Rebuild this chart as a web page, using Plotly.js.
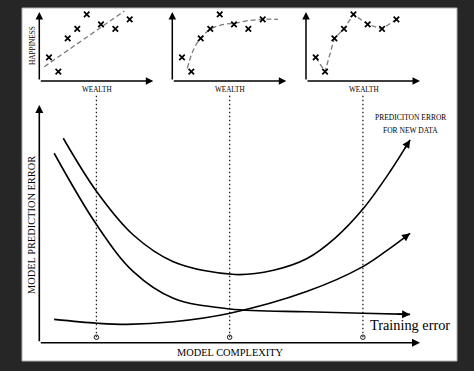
<!DOCTYPE html>
<html>
<head>
<meta charset="utf-8">
<script src="https://cdn.plot.ly/plotly-3.0.1.min.js"></script>
<style>html,body{margin:0;padding:0;background:#262626;}#chart{width:474px;height:371px;}</style>
</head>
<body>
<div id="chart"></div>
<script>
// ---- data ----
// small panels: the same sample, wealth vs happiness
const wealth    = [0.85, 1.67, 2.49, 3.33, 4.16, 5.41, 6.67, 7.93];
const happiness = [3.43, 1.35, 6.19, 7.54, 9.67, 8.22, 7.54, 8.94];
// panel 1: straight-line fit (end points)
const fitX = [0.44, 7.46];
const fitY = [2.07, 10.14];
// panel 2: smooth curve fit
const curveX = [1.32, 1.67, 2.25, 3.37, 4.60, 5.47, 6.64, 7.93, 9.27];
const curveY = [1.84, 3.77, 5.70, 7.54, 8.22, 8.36, 8.74, 8.94, 8.94];
// main chart: model complexity vs prediction error
const newDataX  = [6.3, 15.1, 24.7, 35.2, 51.4, 61.5, 70.2, 77.7, 85.0, 92.1, 97.4];
const newDataY  = [86.0, 63.5, 45.3, 34.1, 28.7, 30.5, 35.3, 44.0, 56.2, 71.9, 85.3];
const trainX    = [3.9, 15.1, 24.7, 35.2, 50.1, 70.2, 85.0, 97.4];
const trainY    = [79.7, 49.5, 29.9, 18.7, 14.2, 13.0, 12.4, 11.9];
const thirdX    = [3.9, 15.1, 23.0, 35.2, 50.1, 70.2, 85.0, 92.1, 97.4];
const thirdY    = [9.8, 8.2, 7.7, 8.8, 12.4, 21.5, 32.0, 39.7, 46.0];
const complexityLevels = [15, 50, 85];
const levelBottom = 2.3, levelTop = 104.2;

// ---- layout helpers ----
const W = 474, H = 371;
const px = (a, b) => [a / W, b / W];
const py = (bottom, top) => [1 - bottom / H, 1 - top / H];
const serif = 'Liberation Serif';
const noAx = {visible: false, fixedrange: true};

const traces = [];
const pAxes = [['x', 'y'], ['x2', 'y2'], ['x3', 'y3']];
const dashGray = {color: '#7a7a7a', width: 1.3, dash: '5px,3px'};

traces.push({x: fitX, y: fitY, xaxis: 'x', yaxis: 'y', mode: 'lines', line: dashGray, hoverinfo: 'skip'});
traces.push({x: curveX, y: curveY, xaxis: 'x2', yaxis: 'y2', mode: 'lines', line: Object.assign({shape: 'spline', smoothing: 1}, dashGray), hoverinfo: 'skip'});
traces.push({x: wealth, y: happiness, xaxis: 'x3', yaxis: 'y3', mode: 'lines', line: dashGray, hoverinfo: 'skip'});
pAxes.forEach(([xa, ya]) => {
  traces.push({x: wealth, y: happiness, xaxis: xa, yaxis: ya, mode: 'markers',
    marker: {symbol: 'x-thin-open', size: 5.5, color: '#000', line: {width: 1.7, color: '#000'}}, hoverinfo: 'skip'});
});

// main chart
complexityLevels.forEach(c => {
  traces.push({x: [c, c], y: [levelBottom, levelTop], xaxis: 'x4', yaxis: 'y4', mode: 'lines',
    line: {color: '#222', width: 1.3, dash: '1.5px,2.5px'}, hoverinfo: 'skip'});
});
traces.push({x: complexityLevels, y: complexityLevels.map(() => levelBottom), xaxis: 'x4', yaxis: 'y4', mode: 'markers',
  marker: {symbol: 'circle-open', size: 4.5, color: '#000', line: {width: 0.9, color: '#000'}}, cliponaxis: false, hoverinfo: 'skip'});
const mainLine = {color: '#000', width: 1.6, shape: 'spline', smoothing: 1};
[[newDataX, newDataY], [trainX, trainY], [thirdX, thirdY]].forEach(([xs, ys]) => {
  traces.push({x: xs, y: ys, xaxis: 'x4', yaxis: 'y4', mode: 'lines', line: mainLine, hoverinfo: 'skip'});
});

// ---- annotations ----
const ann = [];
function arrow(xref, yref, x0, y0, x1, y1, w) {
  ann.push({xref: xref, yref: yref, axref: xref, ayref: yref, x: x1, y: y1, ax: x0, ay: y0,
    text: '', showarrow: true, arrowhead: 2, arrowsize: 1, arrowwidth: w, arrowcolor: '#000', standoff: 0});
}
pAxes.forEach(([xa, ya]) => {
  arrow(xa, ya, 0, 0, 0, 10, 1.5);
  arrow(xa, ya, 0, 0, 10, 0, 1.5);
});
arrow('x4', 'y4', 0, 0, 0, 100, 1.6);
arrow('x4', 'y4', 0, 0, 100, 0, 1.6);
[[newDataX, newDataY], [trainX, trainY], [thirdX, thirdY]].forEach(([xs, ys]) => {
  const n = xs.length;
  const hx = xs[n - 1], hy = ys[n - 1];
  const tx = hx - 0.3 * (hx - xs[n - 2]), ty = hy - 0.3 * (hy - ys[n - 2]);
  arrow('x4', 'y4', tx, ty, hx, hy, 1.6);
});
function label(text, x, y, size, angle) {
  ann.push({xref: 'paper', yref: 'paper', x: x / W, y: 1 - y / H, xanchor: 'center', yanchor: 'middle',
    text: text, showarrow: false, textangle: angle || 0, font: {family: serif, size: size, color: '#000'}});
}
label('HAPPINESS', 32, 45, 7.3, -90);
label('WEALTH', 96.7, 90, 7.2);
label('WEALTH', 230, 90, 7.2);
label('WEALTH', 363.7, 90, 7.2);
label('MODEL COMPLEXITY', 230, 352, 10.4);
label('MODEL PREDICTION ERROR', 31, 225, 10.4, -90);
label('PREDICITON ERROR', 410.3, 117.5, 7.5);
label('FOR NEW DATA', 410.8, 130.5, 7.5);
label('Training error', 410.3, 325, 14.3);

const layout = {
  width: W, height: H,
  margin: {l: 0, r: 0, t: 0, b: 0},
  paper_bgcolor: '#262626', plot_bgcolor: 'rgba(0,0,0,0)',
  showlegend: false,
  xaxis:  Object.assign({domain: px(39.3, 153.3), range: [0, 10], anchor: 'y'}, noAx),
  yaxis:  Object.assign({domain: py(81, 10), range: [0, 10.29], anchor: 'x'}, noAx),
  xaxis2: Object.assign({domain: px(172.3, 286.3), range: [0, 10], anchor: 'y2'}, noAx),
  yaxis2: Object.assign({domain: py(81, 10), range: [0, 10.29], anchor: 'x2'}, noAx),
  xaxis3: Object.assign({domain: px(306, 420), range: [0, 10], anchor: 'y3'}, noAx),
  yaxis3: Object.assign({domain: py(81, 10), range: [0, 10.29], anchor: 'x3'}, noAx),
  xaxis4: Object.assign({domain: px(39.3, 420), range: [0, 100], anchor: 'y4'}, noAx),
  yaxis4: Object.assign({domain: py(342.7, 95), range: [0, 104.2], anchor: 'x4'}, noAx),
  shapes: [{type: 'rect', xref: 'paper', yref: 'paper', x0: 22 / W, x1: 457 / W, y0: 1 - 361 / H, y1: 1 - 8 / H,
    fillcolor: '#ffffff', line: {color: '#b0b0b0', width: 1}, layer: 'below'}],
  annotations: ann
};
Plotly.newPlot('chart', traces, layout, {staticPlot: true, displayModeBar: false});
</script>
</body>
</html>
